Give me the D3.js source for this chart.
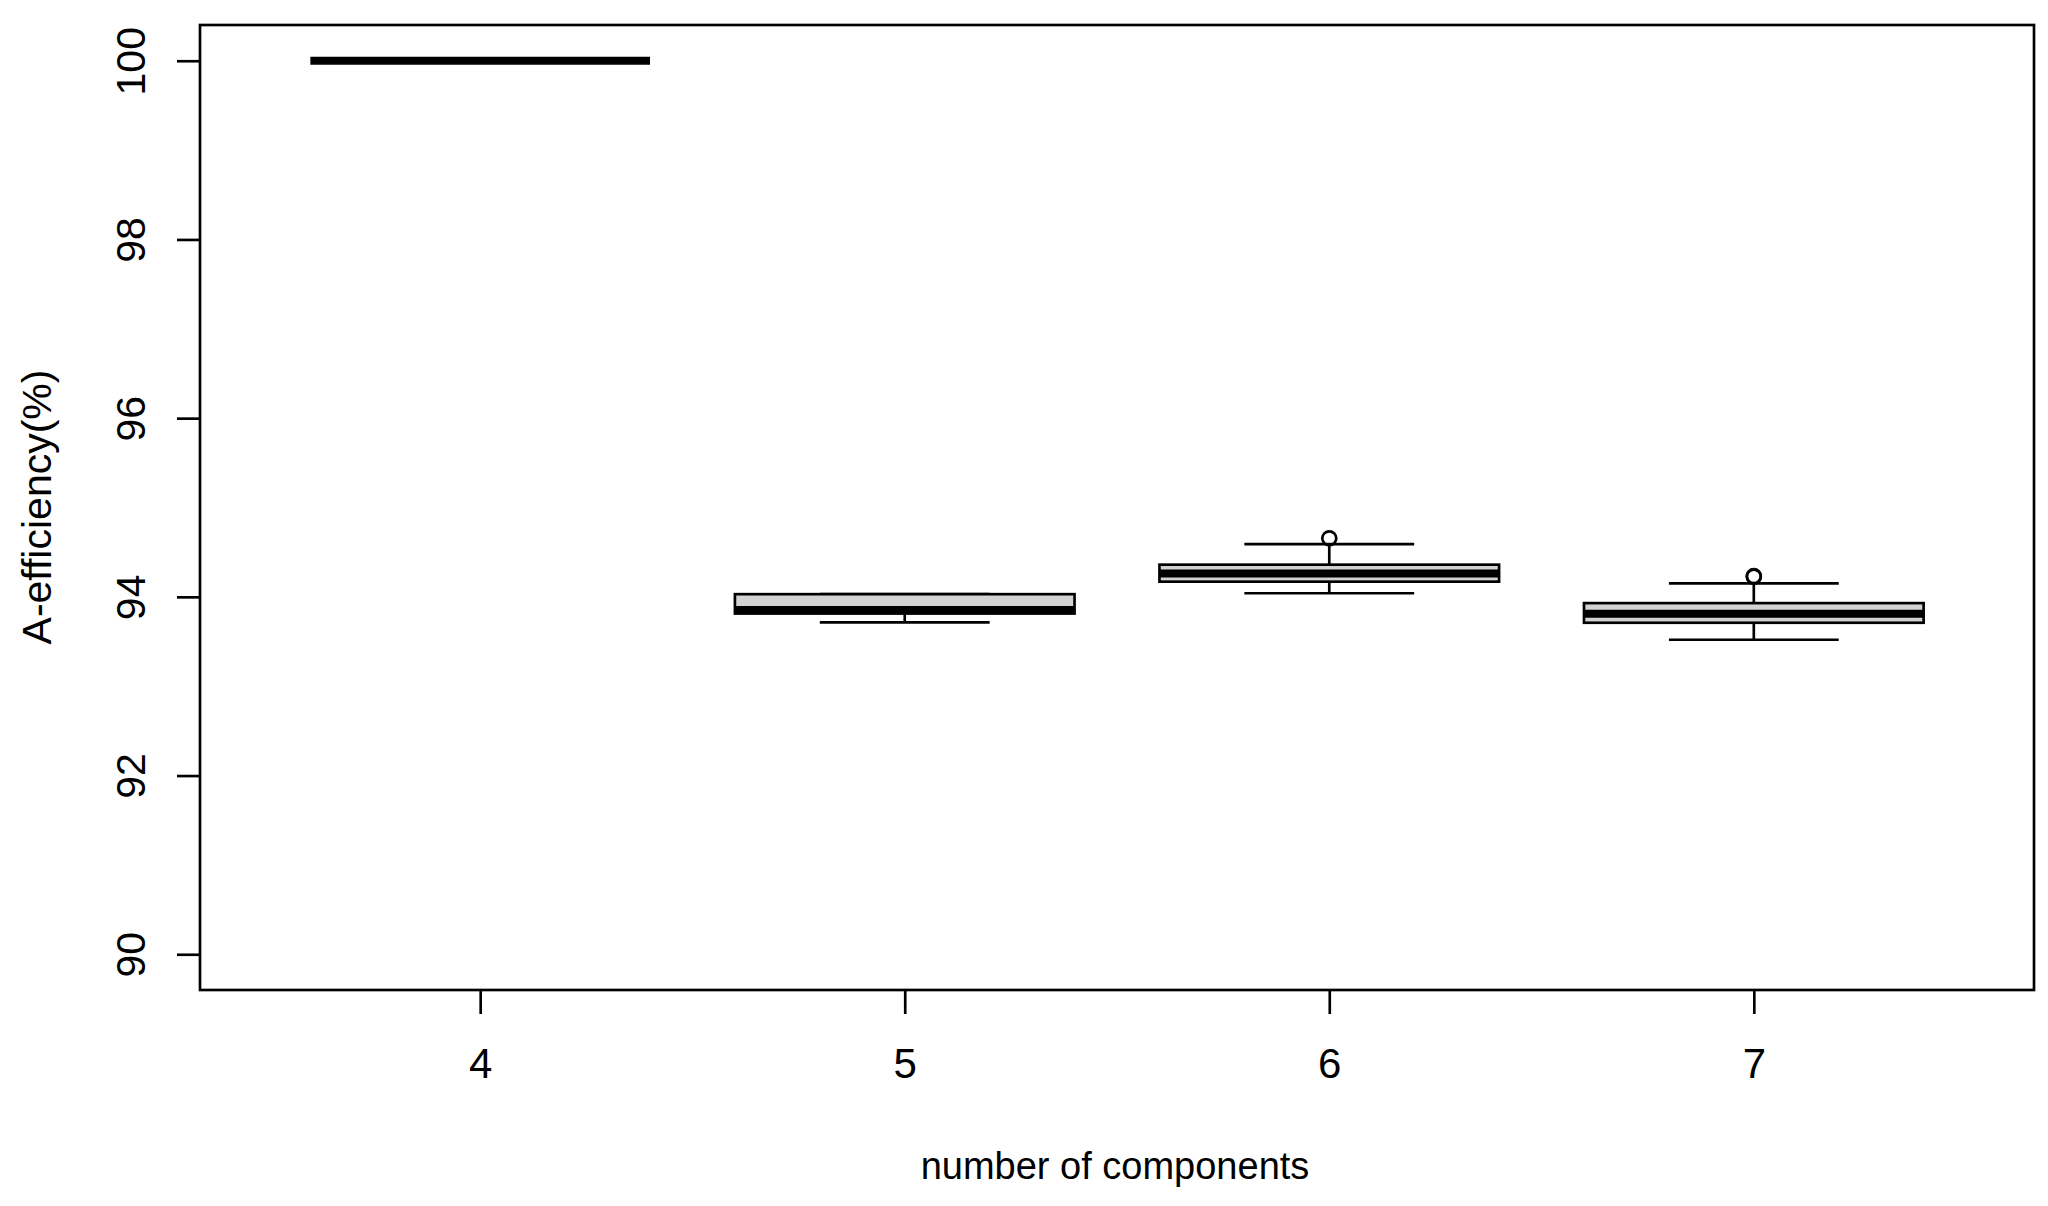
<!DOCTYPE html>
<html>
<head>
<meta charset="utf-8">
<script src="https://cdn.jsdelivr.net/npm/d3@7"></script>
<style>
  body { margin: 0; background: #fff; }
  text { font-family: "Liberation Sans", Arial, sans-serif; }
</style>
</head>
<body>
<svg id="chart" width="2048" height="1206"></svg>
<script>
// box statistics, one entry per group
var categories   = ["4", "5", "6", "7"];
var lowWhisker   = [100, 93.715, 94.04, 93.52];
var q1           = [100, 93.813, 94.17, 93.71];
var median       = [100, 93.853, 94.26, 93.81];
var q3           = [100, 94.03, 94.36, 93.93];
var highWhisker  = [100, 94.03, 94.59, 94.15];
var outliers     = [[], [], [94.655], [94.232, 94.225]];
var yTicks       = [90, 92, 94, 96, 98, 100];

var svg = d3.select("#chart");
var lw = 2.67;

var x = d3.scaleLinear().domain([0.34, 4.66]).range([200, 2034]);
var y = d3.scaleLinear().domain([89.6, 100.4]).range([990, 25]);

var boxHalf = 0.4, stapleHalf = 0.2;

var groups = categories.map(function(c, i) {
  return {pos: i + 1, lo: lowWhisker[i], q1: q1[i], med: median[i],
          q3: q3[i], hi: highWhisker[i], out: outliers[i]};
});

var g = svg.append("g");

var box = g.selectAll("g.box").data(groups).enter().append("g").attr("class", "box");

// whisker stems
box.append("line")
  .attr("x1", function(d) { return x(d.pos); })
  .attr("x2", function(d) { return x(d.pos); })
  .attr("y1", function(d) { return y(d.lo); })
  .attr("y2", function(d) { return y(d.q1); })
  .attr("stroke", "#000").attr("stroke-width", lw);
box.append("line")
  .attr("x1", function(d) { return x(d.pos); })
  .attr("x2", function(d) { return x(d.pos); })
  .attr("y1", function(d) { return y(d.q3); })
  .attr("y2", function(d) { return y(d.hi); })
  .attr("stroke", "#000").attr("stroke-width", lw);

// staples
box.append("line")
  .attr("x1", function(d) { return x(d.pos - stapleHalf); })
  .attr("x2", function(d) { return x(d.pos + stapleHalf); })
  .attr("y1", function(d) { return y(d.lo); })
  .attr("y2", function(d) { return y(d.lo); })
  .attr("stroke", "#000").attr("stroke-width", lw);
box.append("line")
  .attr("x1", function(d) { return x(d.pos - stapleHalf); })
  .attr("x2", function(d) { return x(d.pos + stapleHalf); })
  .attr("y1", function(d) { return y(d.hi); })
  .attr("y2", function(d) { return y(d.hi); })
  .attr("stroke", "#000").attr("stroke-width", lw);

// boxes
box.append("rect")
  .attr("x", function(d) { return x(d.pos - boxHalf); })
  .attr("width", function(d) { return x(d.pos + boxHalf) - x(d.pos - boxHalf); })
  .attr("y", function(d) { return y(d.q3); })
  .attr("height", function(d) { return y(d.q1) - y(d.q3); })
  .attr("fill", "#d3d3d3")
  .attr("stroke", "#000").attr("stroke-width", lw);

// medians
box.append("line")
  .attr("x1", function(d) { return x(d.pos - boxHalf); })
  .attr("x2", function(d) { return x(d.pos + boxHalf); })
  .attr("y1", function(d) { return y(d.med); })
  .attr("y2", function(d) { return y(d.med); })
  .attr("stroke", "#000").attr("stroke-width", 8);

// outliers
box.selectAll("circle")
  .data(function(d) { return d.out.map(function(v) { return {pos: d.pos, v: v}; }); })
  .enter().append("circle")
  .attr("cx", function(d) { return x(d.pos); })
  .attr("cy", function(d) { return y(d.v); })
  .attr("r", 7)
  .attr("fill", "none")
  .attr("stroke", "#000").attr("stroke-width", lw);

// frame
svg.append("rect")
  .attr("x", 200).attr("y", 25)
  .attr("width", 2034 - 200).attr("height", 990 - 25)
  .attr("fill", "none")
  .attr("stroke", "#000").attr("stroke-width", lw);

// y axis
var yAxis = svg.append("g")
  .attr("transform", "translate(200,0)")
  .call(d3.axisLeft(y).tickValues(yTicks).tickSize(23).tickSizeOuter(0));
yAxis.select(".domain").remove();
yAxis.selectAll(".tick line").attr("stroke", "#000").attr("stroke-width", lw);
yAxis.selectAll(".tick text")
  .attr("x", null).attr("dy", null)
  .attr("text-anchor", "middle")
  .attr("transform", "translate(-55,0) rotate(-90)")
  .attr("font-size", "41px")
  .attr("font-family", "Liberation Sans, Arial, sans-serif")
  .attr("fill", "#000");

// x axis
var xAxis = svg.append("g")
  .attr("transform", "translate(0,990)")
  .call(d3.axisBottom(x).tickValues([1, 2, 3, 4])
    .tickFormat(function(d) { return categories[d - 1]; })
    .tickSize(24).tickSizeOuter(0));
xAxis.select(".domain").remove();
xAxis.selectAll(".tick line").attr("stroke", "#000").attr("stroke-width", lw);
xAxis.selectAll(".tick text")
  .attr("y", 88).attr("dy", null)
  .attr("font-size", "42px")
  .attr("font-family", "Liberation Sans, Arial, sans-serif")
  .attr("fill", "#000");

// axis titles
svg.append("text")
  .attr("x", 1115)
  .attr("y", 1179)
  .text("number of components")
  .attr("font-size", "38px")
  .attr("text-anchor", "middle")
  .attr("fill", "#000");

svg.append("text")
  .attr("transform", "translate(51,507) rotate(-90)")
  .text("A-efficiency(%)")
  .attr("font-size", "41px")
  .attr("text-anchor", "middle")
  .attr("fill", "#000");
</script>
</body>
</html>
